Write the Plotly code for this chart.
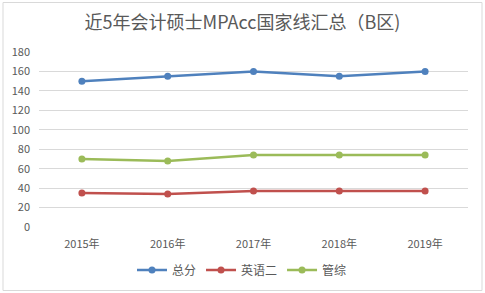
import plotly.graph_objects as go

years = ["2015年", "2016年", "2017年", "2018年", "2019年"]
total = [150, 155, 160, 155, 160]
english = [35, 34, 37, 37, 37]
mgmt = [70, 68, 74, 74, 74]
series_names = ["总分", "英语二", "管综"]
colors = ["#4F81BD", "#C0504D", "#9BBB59"]
y_ticks = [0, 20, 40, 60, 80, 100, 120, 140, 160, 180]

FONT = "Noto Sans CJK SC, Microsoft YaHei, sans-serif"
W, H = 485, 293
ml, mr, mt, mb = 39, 17, 52, 66
pw, ph = W - ml - mr, H - mt - mb

fig = go.Figure()
for name, vals, c in zip(series_names, [total, english, mgmt], colors):
    fig.add_trace(go.Scatter(
        x=years, y=vals, name=name, mode="lines+markers",
        line=dict(color=c, width=2.5),
        marker=dict(color=c, size=7),
    ))

fig.update_layout(
    width=W, height=H,
    margin=dict(l=ml, r=mr, t=mt, b=mb, autoexpand=False),
    paper_bgcolor="white", plot_bgcolor="white",
    font=dict(family=FONT, color="#595959", size=11),
    title=dict(text="近5年会计硕士MPAcc国家线汇总（B区)", x=0.5, xanchor="center",
               xref="container", y=1 - 23 / H, yanchor="middle",
               font=dict(size=18, color="#595959", family=FONT)),
    showlegend=True,
    legend=dict(orientation="h", x=(242 - ml) / pw, xanchor="center",
                y=(mt + ph - 270) / ph, yanchor="middle",
                font=dict(size=12, color="#595959"), itemwidth=30,
                bgcolor="rgba(0,0,0,0)"),
    xaxis=dict(showgrid=False, zeroline=False, showline=False, ticks="",
               range=[-0.5, 4.5], ticklabelstandoff=9, automargin=False,
               tickfont=dict(size=11, color="#595959")),
    yaxis=dict(range=[0, 180], tickvals=y_ticks, showgrid=True,
               gridcolor="#D9D9D9", gridwidth=1, zeroline=False,
               showline=False, ticks="", ticklabelstandoff=8, automargin=False,
               tickfont=dict(size=11, color="#595959")),
    shapes=[dict(type="rect", xref="paper", yref="paper",
                 x0=(3 - ml) / pw, x1=(482 - ml) / pw,
                 y0=(mt + ph - 290.5) / ph, y1=(mt + ph - 2.5) / ph,
                 line=dict(color="#D9D9D9", width=1), layer="below")],
)

fig.write_html("out.html")
